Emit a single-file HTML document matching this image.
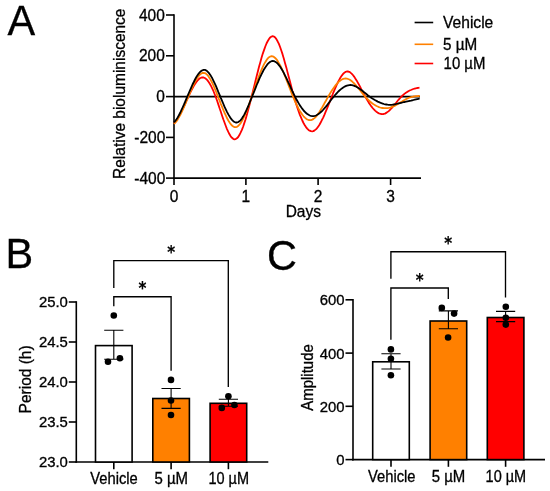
<!DOCTYPE html>
<html><head><meta charset="utf-8"><title>Figure</title>
<style>html,body{margin:0;padding:0;background:#fff}svg{display:block}text{font-family:"Liberation Sans",Arial,sans-serif;fill:#000;stroke:#000;stroke-width:0.3px}.ast{font-family:"DejaVu Sans","Liberation Sans",sans-serif;font-weight:bold;stroke:#000;stroke-width:0.2px}</style></head><body>
<svg width="550" height="491" viewBox="0 0 550 491">
<rect width="550" height="491" fill="#fff"/>
<text transform="translate(7.40,34.70) scale(1,1.04)" font-size="41.5">A</text>
<text transform="translate(5.60,268.40) scale(1,1.04)" font-size="41.5">B</text>
<text transform="translate(267.10,269.80) scale(1,1.04)" font-size="41.5">C</text>
<g stroke="#000" stroke-width="1.6" fill="none">
<path d="M174,14.2V178.9"/>
<path d="M173.2,178.1H421"/>
<path d="M166,15H174"/>
<path d="M166,55.8H174"/>
<path d="M166,96.6H174"/>
<path d="M166,137.4H174"/>
<path d="M166,178.1H174"/>
<path d="M174,178.1V185"/>
<path d="M245.9,178.1V185"/>
<path d="M318.1,178.1V185"/>
<path d="M390.6,178.1V185"/>
</g>
<path d="M174,96.6H420" stroke="#000" stroke-width="1.6" fill="none"/>
<path d="M174.0,123.6 L175.2,122.2 L176.5,120.5 L177.7,118.5 L178.9,116.4 L180.2,114.1 L181.4,111.7 L182.6,109.1 L183.9,106.5 L185.1,103.8 L186.3,101.1 L187.6,98.4 L188.8,95.7 L190.0,93.1 L191.3,90.6 L192.5,88.3 L193.7,86.0 L195.0,84.0 L196.2,82.2 L197.4,80.6 L198.7,79.3 L199.9,78.3 L201.1,77.7 L202.4,77.4 L203.6,77.5 L204.8,78.0 L206.1,78.9 L207.3,80.1 L208.5,81.7 L209.8,83.7 L211.0,85.9 L212.2,88.4 L213.5,91.2 L214.7,94.3 L215.9,97.5 L217.2,101.0 L218.4,104.6 L219.6,108.3 L220.9,112.0 L222.1,115.7 L223.3,119.3 L224.6,122.8 L225.8,126.0 L227.0,129.1 L228.3,131.9 L229.5,134.3 L230.7,136.3 L232.0,137.8 L233.2,138.8 L234.4,139.3 L235.7,139.1 L236.9,138.3 L238.2,137.0 L239.4,135.1 L240.6,132.7 L241.9,129.9 L243.1,126.7 L244.3,123.1 L245.6,119.2 L246.8,114.9 L248.0,110.5 L249.3,105.8 L250.5,101.0 L251.7,96.1 L253.0,91.1 L254.2,86.1 L255.4,81.1 L256.7,76.1 L257.9,71.2 L259.1,66.5 L260.4,62.0 L261.6,57.6 L262.8,53.6 L264.1,49.9 L265.3,46.5 L266.5,43.5 L267.8,41.0 L269.0,39.0 L270.2,37.4 L271.5,36.5 L272.7,36.2 L273.9,36.5 L275.2,37.5 L276.4,39.1 L277.6,41.3 L278.9,43.9 L280.1,47.0 L281.3,50.5 L282.6,54.4 L283.8,58.5 L285.0,62.9 L286.3,67.4 L287.5,72.1 L288.7,76.8 L290.0,81.6 L291.2,86.3 L292.4,90.9 L293.7,95.4 L294.9,99.7 L296.1,103.8 L297.4,107.6 L298.6,111.2 L299.8,114.6 L301.1,117.7 L302.3,120.5 L303.5,123.0 L304.8,125.2 L306.0,127.1 L307.2,128.6 L308.5,129.9 L309.7,130.7 L310.9,131.2 L312.2,131.3 L313.4,131.1 L314.6,130.4 L315.9,129.4 L317.1,128.1 L318.3,126.4 L319.6,124.5 L320.8,122.3 L322.0,119.9 L323.3,117.3 L324.5,114.6 L325.7,111.7 L327.0,108.7 L328.2,105.7 L329.4,102.6 L330.7,99.4 L331.9,96.3 L333.1,93.2 L334.4,90.2 L335.6,87.3 L336.8,84.6 L338.1,82.0 L339.3,79.6 L340.5,77.5 L341.8,75.6 L343.0,74.0 L344.2,72.8 L345.5,71.9 L346.7,71.5 L347.9,71.5 L349.2,71.8 L350.4,72.6 L351.6,73.6 L352.9,75.0 L354.1,76.6 L355.3,78.4 L356.6,80.4 L357.8,82.6 L359.1,84.9 L360.3,87.2 L361.5,89.6 L362.8,92.0 L364.0,94.3 L365.2,96.6 L366.5,98.8 L367.7,100.9 L368.9,102.9 L370.2,104.7 L371.4,106.4 L372.6,108.0 L373.9,109.4 L375.1,110.6 L376.3,111.7 L377.6,112.6 L378.8,113.3 L380.0,113.7 L381.3,114.0 L382.5,114.1 L383.7,114.0 L385.0,113.6 L386.2,112.9 L387.4,112.1 L388.7,111.1 L389.9,110.0 L391.1,108.7 L392.4,107.3 L393.6,105.8 L394.8,104.3 L396.1,102.8 L397.3,101.3 L398.5,99.8 L399.8,98.4 L401.0,97.0 L402.2,95.8 L403.5,94.7 L404.7,93.6 L405.9,92.7 L407.2,91.9 L408.4,91.2 L409.6,90.5 L410.9,90.0 L412.1,89.5 L413.3,89.0 L414.6,88.6 L415.8,88.3 L417.0,88.0 L418.3,87.8 L419.5,87.6" stroke="#ff0000" stroke-width="1.8" fill="none" stroke-linejoin="round"/>
<path d="M174.0,123.8 L175.2,122.7 L176.5,121.2 L177.7,119.4 L178.9,117.4 L180.2,115.1 L181.4,112.6 L182.6,110.0 L183.9,107.2 L185.1,104.3 L186.3,101.3 L187.6,98.3 L188.8,95.4 L190.1,92.4 L191.3,89.6 L192.5,86.8 L193.8,84.2 L195.0,81.8 L196.2,79.6 L197.5,77.6 L198.7,75.9 L199.9,74.6 L201.2,73.6 L202.4,73.0 L203.6,72.8 L204.9,73.1 L206.1,73.8 L207.3,74.9 L208.6,76.5 L209.8,78.4 L211.0,80.6 L212.3,83.0 L213.5,85.7 L214.7,88.5 L216.0,91.5 L217.2,94.6 L218.4,97.7 L219.7,100.9 L220.9,104.1 L222.2,107.1 L223.4,110.2 L224.6,113.0 L225.9,115.7 L227.1,118.3 L228.3,120.5 L229.6,122.5 L230.8,124.2 L232.0,125.6 L233.3,126.5 L234.5,127.1 L235.7,127.2 L237.0,126.8 L238.2,126.0 L239.4,124.7 L240.7,123.1 L241.9,121.1 L243.1,118.8 L244.4,116.2 L245.6,113.4 L246.8,110.3 L248.1,107.1 L249.3,103.7 L250.5,100.2 L251.8,96.6 L253.0,93.0 L254.3,89.4 L255.5,85.8 L256.7,82.3 L258.0,78.9 L259.2,75.5 L260.4,72.4 L261.7,69.4 L262.9,66.6 L264.1,64.1 L265.4,61.9 L266.6,60.0 L267.8,58.4 L269.1,57.2 L270.3,56.5 L271.5,56.2 L272.8,56.4 L274.0,57.0 L275.2,58.0 L276.5,59.3 L277.7,61.1 L278.9,63.1 L280.2,65.4 L281.4,67.9 L282.7,70.6 L283.9,73.5 L285.1,76.5 L286.4,79.6 L287.6,82.8 L288.8,86.0 L290.1,89.2 L291.3,92.4 L292.5,95.5 L293.8,98.4 L295.0,101.3 L296.2,104.0 L297.5,106.5 L298.7,108.9 L299.9,111.0 L301.2,113.0 L302.4,114.8 L303.6,116.3 L304.9,117.6 L306.1,118.7 L307.3,119.5 L308.6,120.0 L309.8,120.2 L311.0,120.1 L312.3,119.6 L313.5,118.9 L314.8,117.9 L316.0,116.6 L317.2,115.1 L318.5,113.4 L319.7,111.5 L320.9,109.5 L322.2,107.4 L323.4,105.3 L324.6,103.0 L325.9,100.8 L327.1,98.6 L328.3,96.4 L329.6,94.2 L330.8,92.2 L332.0,90.3 L333.3,88.4 L334.5,86.7 L335.7,85.1 L337.0,83.6 L338.2,82.3 L339.4,81.2 L340.7,80.2 L341.9,79.5 L343.2,78.9 L344.4,78.6 L345.6,78.5 L346.9,78.6 L348.1,79.0 L349.3,79.5 L350.6,80.3 L351.8,81.2 L353.0,82.3 L354.3,83.5 L355.5,84.9 L356.7,86.3 L358.0,87.7 L359.2,89.3 L360.4,90.8 L361.7,92.4 L362.9,93.9 L364.1,95.4 L365.4,96.8 L366.6,98.1 L367.8,99.4 L369.1,100.6 L370.3,101.7 L371.5,102.7 L372.8,103.7 L374.0,104.5 L375.3,105.3 L376.5,106.0 L377.7,106.5 L379.0,107.1 L380.2,107.5 L381.4,107.8 L382.7,108.0 L383.9,108.2 L385.1,108.2 L386.4,108.2 L387.6,108.1 L388.8,107.9 L390.1,107.6 L391.3,107.2 L392.5,106.7 L393.8,106.2 L395.0,105.6 L396.2,105.0 L397.5,104.3 L398.7,103.5 L399.9,102.8 L401.2,102.0 L402.4,101.3 L403.6,100.5 L404.9,99.8 L406.1,99.1 L407.4,98.5 L408.6,97.9 L409.8,97.5 L411.1,97.1 L412.3,96.8 L413.5,96.5 L414.8,96.3 L416.0,96.2 L417.2,96.1 L418.5,96.0 L419.7,96.0" stroke="#ff8000" stroke-width="1.8" fill="none" stroke-linejoin="round"/>
<path d="M174.0,122.4 L175.2,121.0 L176.5,119.3 L177.7,117.4 L178.9,115.2 L180.2,112.8 L181.4,110.2 L182.6,107.5 L183.9,104.7 L185.1,101.8 L186.3,98.9 L187.6,95.9 L188.8,93.0 L190.1,90.1 L191.3,87.3 L192.5,84.5 L193.8,82.0 L195.0,79.5 L196.2,77.3 L197.5,75.3 L198.7,73.6 L199.9,72.2 L201.2,71.0 L202.4,70.3 L203.6,69.9 L204.9,69.9 L206.1,70.4 L207.3,71.3 L208.6,72.6 L209.8,74.2 L211.0,76.1 L212.3,78.3 L213.5,80.8 L214.7,83.4 L216.0,86.2 L217.2,89.1 L218.4,92.1 L219.7,95.1 L220.9,98.1 L222.2,101.1 L223.4,104.0 L224.6,106.9 L225.9,109.6 L227.1,112.1 L228.3,114.4 L229.6,116.5 L230.8,118.4 L232.0,119.9 L233.3,121.2 L234.5,122.0 L235.7,122.5 L237.0,122.5 L238.2,122.1 L239.4,121.3 L240.7,120.1 L241.9,118.5 L243.1,116.6 L244.4,114.4 L245.6,112.0 L246.8,109.3 L248.1,106.5 L249.3,103.5 L250.5,100.5 L251.8,97.4 L253.0,94.3 L254.3,91.2 L255.5,88.1 L256.7,85.0 L258.0,82.1 L259.2,79.2 L260.4,76.5 L261.7,73.9 L262.9,71.5 L264.1,69.2 L265.4,67.2 L266.6,65.5 L267.8,63.9 L269.1,62.7 L270.3,61.8 L271.5,61.2 L272.8,61.0 L274.0,61.1 L275.2,61.7 L276.5,62.5 L277.7,63.7 L278.9,65.1 L280.2,66.8 L281.4,68.8 L282.7,70.9 L283.9,73.2 L285.1,75.6 L286.4,78.1 L287.6,80.8 L288.8,83.4 L290.1,86.1 L291.3,88.8 L292.5,91.5 L293.8,94.1 L295.0,96.6 L296.2,99.0 L297.5,101.3 L298.7,103.4 L299.9,105.4 L301.2,107.2 L302.4,108.9 L303.6,110.5 L304.9,111.8 L306.1,113.0 L307.3,114.0 L308.6,114.8 L309.8,115.5 L311.0,115.9 L312.3,116.1 L313.5,116.1 L314.8,115.9 L316.0,115.5 L317.2,114.8 L318.5,114.0 L319.7,113.1 L320.9,112.0 L322.2,110.8 L323.4,109.5 L324.6,108.1 L325.9,106.6 L327.1,105.1 L328.3,103.5 L329.6,101.9 L330.8,100.3 L332.0,98.8 L333.3,97.2 L334.5,95.8 L335.7,94.3 L337.0,93.0 L338.2,91.7 L339.4,90.5 L340.7,89.4 L341.9,88.4 L343.2,87.5 L344.4,86.8 L345.6,86.1 L346.9,85.6 L348.1,85.3 L349.3,85.1 L350.6,85.0 L351.8,85.1 L353.0,85.4 L354.3,85.8 L355.5,86.3 L356.7,86.9 L358.0,87.7 L359.2,88.5 L360.4,89.4 L361.7,90.3 L362.9,91.3 L364.1,92.3 L365.4,93.3 L366.6,94.3 L367.8,95.3 L369.1,96.2 L370.3,97.1 L371.5,98.0 L372.8,98.8 L374.0,99.5 L375.3,100.3 L376.5,100.9 L377.7,101.6 L379.0,102.1 L380.2,102.7 L381.4,103.2 L382.7,103.6 L383.9,104.0 L385.1,104.3 L386.4,104.5 L387.6,104.7 L388.8,104.8 L390.1,104.8 L391.3,104.8 L392.5,104.7 L393.8,104.5 L395.0,104.3 L396.2,104.0 L397.5,103.7 L398.7,103.4 L399.9,103.1 L401.2,102.8 L402.4,102.5 L403.6,102.2 L404.9,102.0 L406.1,101.7 L407.4,101.4 L408.6,101.1 L409.8,100.8 L411.1,100.6 L412.3,100.3 L413.5,100.0 L414.8,99.7 L416.0,99.4 L417.2,99.1 L418.5,98.8 L419.7,98.5" stroke="#000" stroke-width="1.8" fill="none" stroke-linejoin="round"/>
<text transform="translate(164.80,20.60) scale(1,1.04)" font-size="15.5" text-anchor="end">400</text>
<text transform="translate(164.80,61.40) scale(1,1.04)" font-size="15.5" text-anchor="end">200</text>
<text transform="translate(164.80,102.20) scale(1,1.04)" font-size="15.5" text-anchor="end">0</text>
<text transform="translate(165.30,143.00) scale(1,1.04)" font-size="15.5" text-anchor="end">-200</text>
<text transform="translate(165.30,183.70) scale(1,1.04)" font-size="15.5" text-anchor="end">-400</text>
<text transform="translate(174.00,201.90) scale(1,1.04)" font-size="15.5" text-anchor="middle">0</text>
<text transform="translate(245.90,201.90) scale(1,1.04)" font-size="15.5" text-anchor="middle">1</text>
<text transform="translate(318.10,201.90) scale(1,1.04)" font-size="15.5" text-anchor="middle">2</text>
<text transform="translate(390.60,201.90) scale(1,1.04)" font-size="15.5" text-anchor="middle">3</text>
<text transform="translate(303.30,216.80) scale(1,1.04)" font-size="15.5" text-anchor="middle">Days</text>
<text transform="translate(125.40,93.75) rotate(-90) scale(1,1.04)" font-size="15.5" text-anchor="middle">Relative bioluminiscence</text>
<path d="M414.6,22.5H433.2" stroke="#000" stroke-width="1.6"/>
<path d="M414.6,44.3H433.2" stroke="#ff8000" stroke-width="1.6"/>
<path d="M414.6,63.5H433.2" stroke="#ff0000" stroke-width="1.6"/>
<text transform="translate(443.00,28.20) scale(1,1.04)" font-size="15.6">Vehicle</text>
<text transform="translate(443.00,49.80) scale(1,1.04)" font-size="15.6" textLength="34.2" lengthAdjust="spacingAndGlyphs">5 µM</text>
<text transform="translate(443.60,68.90) scale(1,1.04)" font-size="15.6" textLength="41.8" lengthAdjust="spacingAndGlyphs">10 µM</text>
<g stroke="#000" stroke-width="1.6" fill="none">
<path d="M76.3,301.2V462.8"/>
<path d="M75.5,462.0H268.3"/>
<path d="M68.8,302.0H76.3"/>
<path d="M68.8,342.0H76.3"/>
<path d="M68.8,382.0H76.3"/>
<path d="M68.8,422.0H76.3"/>
<path d="M68.8,462.0H76.3"/>
<path d="M113.8,462.0V469.2"/>
<path d="M171.1,462.0V469.2"/>
<path d="M228.4,462.0V469.2"/>
</g>
<text transform="translate(67.90,307.40) scale(1,1.04)" font-size="14.9" text-anchor="end">25.0</text>
<text transform="translate(67.90,347.40) scale(1,1.04)" font-size="14.9" text-anchor="end">24.5</text>
<text transform="translate(67.90,387.40) scale(1,1.04)" font-size="14.9" text-anchor="end">24.0</text>
<text transform="translate(67.90,427.40) scale(1,1.04)" font-size="14.9" text-anchor="end">23.5</text>
<text transform="translate(67.90,467.40) scale(1,1.04)" font-size="14.9" text-anchor="end">23.0</text>
<rect x="95.5" y="345.6" width="36.6" height="116.4" fill="#fff" stroke="#000" stroke-width="1.6"/>
<path d="M113.8,330.3V359.3M104.2,330.3H123.39999999999999M104.2,359.3H123.39999999999999" stroke="#000" stroke-width="1.1" fill="none"/>
<circle cx="113.8" cy="315.5" r="3.3" fill="#000"/>
<circle cx="108" cy="361.8" r="3.3" fill="#000"/>
<circle cx="119.9" cy="358.3" r="3.3" fill="#000"/>
<text transform="translate(90.25,483.90) scale(1,1.04)" font-size="15.3" textLength="47.5" lengthAdjust="spacingAndGlyphs">Vehicle</text>
<rect x="152.8" y="398.5" width="36.6" height="63.5" fill="#ff8000" stroke="#000" stroke-width="1.6"/>
<path d="M171.1,388.5V408.4M161.5,388.5H180.7M161.5,408.4H180.7" stroke="#000" stroke-width="1.1" fill="none"/>
<circle cx="171" cy="379.9" r="3.3" fill="#000"/>
<circle cx="171" cy="400.5" r="3.3" fill="#000"/>
<circle cx="171" cy="415" r="3.3" fill="#000"/>
<text transform="translate(154.40,483.90) scale(1,1.04)" font-size="15.3" textLength="33.6" lengthAdjust="spacingAndGlyphs">5 µM</text>
<rect x="210.1" y="403.3" width="36.6" height="58.7" fill="#ff0000" stroke="#000" stroke-width="1.6"/>
<path d="M228.4,399.3V406.2M218.8,399.3H238.0M218.8,406.2H238.0" stroke="#000" stroke-width="1.1" fill="none"/>
<circle cx="228.4" cy="396.2" r="3.3" fill="#000"/>
<circle cx="221.8" cy="407.9" r="3.3" fill="#000"/>
<circle cx="234.4" cy="405" r="3.3" fill="#000"/>
<text transform="translate(208.40,483.90) scale(1,1.04)" font-size="15.3" textLength="40.6" lengthAdjust="spacingAndGlyphs">10 µM</text>
<text transform="translate(31.00,379.40) rotate(-90) scale(1,1.04)" font-size="15.5" text-anchor="middle">Period (h)</text>
<path d="M113.8,288V260.6H228.3V387" stroke="#000" stroke-width="1.35" fill="none"/>
<path d="M113.8,306.3V296.7H171.1V370.8" stroke="#000" stroke-width="1.35" fill="none"/>
<text class="ast" transform="translate(171.10,258.00) scale(0.82,1)" font-size="18.4" text-anchor="middle">*</text>
<text class="ast" transform="translate(142.50,294.30) scale(0.82,1)" font-size="18.4" text-anchor="middle">*</text>
<g stroke="#000" stroke-width="1.6" fill="none">
<path d="M353,299.0V460.40000000000003"/>
<path d="M352.2,459.6H545"/>
<path d="M345.5,299.8H353"/>
<path d="M345.5,353.1H353"/>
<path d="M345.5,406.3H353"/>
<path d="M345.5,459.6H353"/>
<path d="M391,459.6V466.8"/>
<path d="M448.4,459.6V466.8"/>
<path d="M505.6,459.6V466.8"/>
</g>
<text transform="translate(344.60,305.20) scale(1,1.04)" font-size="14.9" text-anchor="end">600</text>
<text transform="translate(344.60,358.50) scale(1,1.04)" font-size="14.9" text-anchor="end">400</text>
<text transform="translate(344.60,411.70) scale(1,1.04)" font-size="14.9" text-anchor="end">200</text>
<text transform="translate(344.60,465.00) scale(1,1.04)" font-size="14.9" text-anchor="end">0</text>
<rect x="372.7" y="361.8" width="36.6" height="97.8" fill="#fff" stroke="#000" stroke-width="1.6"/>
<path d="M391,353.7V369M381.4,353.7H400.6M381.4,369H400.6" stroke="#000" stroke-width="1.1" fill="none"/>
<circle cx="390.9" cy="349.4" r="3.3" fill="#000"/>
<circle cx="390.9" cy="358.8" r="3.3" fill="#000"/>
<circle cx="390.9" cy="375.3" r="3.3" fill="#000"/>
<text transform="translate(368.05,481.60) scale(1,1.04)" font-size="15.3" textLength="47.5" lengthAdjust="spacingAndGlyphs">Vehicle</text>
<rect x="430.1" y="321" width="36.6" height="138.6" fill="#ff8000" stroke="#000" stroke-width="1.6"/>
<path d="M448.4,310.9V328.7M438.79999999999995,310.9H458.0M438.79999999999995,328.7H458.0" stroke="#000" stroke-width="1.1" fill="none"/>
<circle cx="441.8" cy="307.9" r="3.3" fill="#000"/>
<circle cx="454.1" cy="313.6" r="3.3" fill="#000"/>
<circle cx="448.1" cy="337.5" r="3.3" fill="#000"/>
<text transform="translate(431.70,481.60) scale(1,1.04)" font-size="15.3" textLength="33.6" lengthAdjust="spacingAndGlyphs">5 µM</text>
<rect x="487.3" y="317.5" width="36.6" height="142.1" fill="#ff0000" stroke="#000" stroke-width="1.6"/>
<path d="M505.6,311.4V321.6M496.0,311.4H515.2M496.0,321.6H515.2" stroke="#000" stroke-width="1.1" fill="none"/>
<circle cx="505.8" cy="306.8" r="3.3" fill="#000"/>
<circle cx="505.8" cy="317.7" r="3.3" fill="#000"/>
<circle cx="505.8" cy="324.6" r="3.3" fill="#000"/>
<text transform="translate(485.60,481.60) scale(1,1.04)" font-size="15.3" textLength="40.6" lengthAdjust="spacingAndGlyphs">10 µM</text>
<text transform="translate(313.20,377.50) rotate(-90) scale(1,1.04)" font-size="15.0" text-anchor="middle">Amplitude</text>
<path d="M390.9,278.8V251.7H505.5V297.5" stroke="#000" stroke-width="1.35" fill="none"/>
<path d="M390.9,339.7V288H448.3V299" stroke="#000" stroke-width="1.35" fill="none"/>
<text class="ast" transform="translate(448.20,249.20) scale(0.82,1)" font-size="18.4" text-anchor="middle">*</text>
<text class="ast" transform="translate(419.70,285.80) scale(0.82,1)" font-size="18.4" text-anchor="middle">*</text>
</svg></body></html>
